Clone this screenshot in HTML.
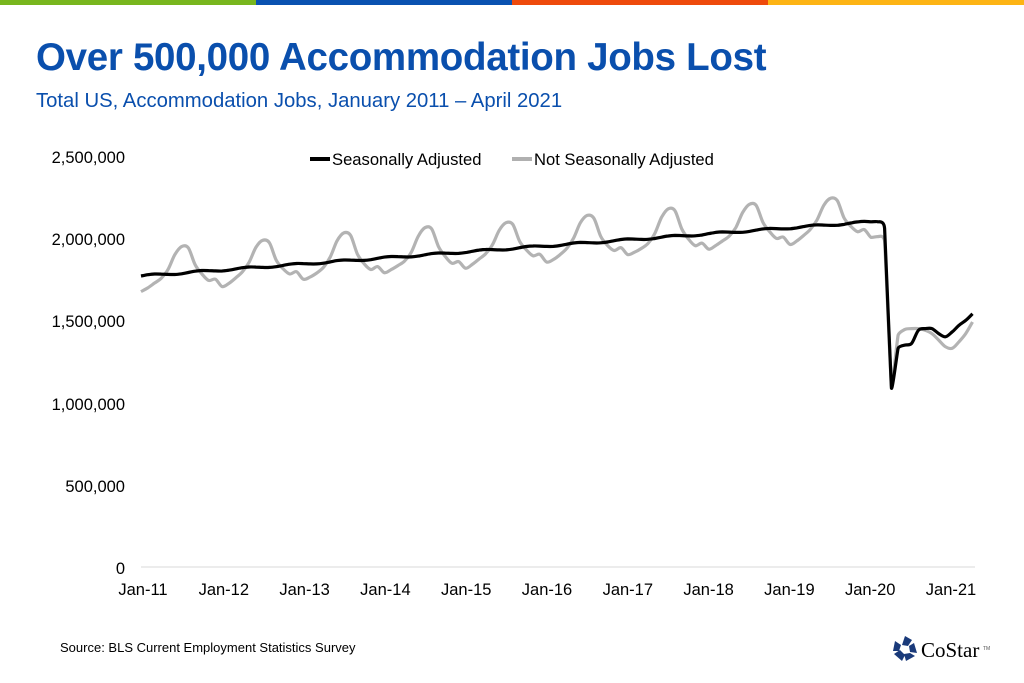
<!DOCTYPE html>
<html><head><meta charset="utf-8"><style>
body{margin:0;width:1024px;height:683px;background:#fff;overflow:hidden;font-family:"Liberation Sans",Arial,sans-serif;position:relative}
.bar{position:absolute;top:0;height:5px;width:256px}
#t{position:absolute;left:36px;top:36px;font-size:38.5px;font-weight:bold;color:#0a4fad;letter-spacing:-0.3px}
#s{position:absolute;left:36px;top:90px;font-size:20.3px;color:#0a4fad}
#src{position:absolute;left:60px;top:640px;font-size:13px;color:#000}
</style></head><body>
<div class="bar" style="left:0;background:#78b61e"></div>
<div class="bar" style="left:256px;background:#0a52b0"></div>
<div class="bar" style="left:512px;background:#ee4a0c"></div>
<div class="bar" style="left:768px;background:#fdb414"></div>
<div id="t">Over 500,000 Accommodation Jobs Lost</div>
<div id="s">Total US, Accommodation Jobs, January 2011 – April 2021</div>
<svg width="1024" height="683" style="position:absolute;left:0;top:0">
<g font-family="Liberation Sans, Arial, sans-serif" font-size="16.5" fill="#000" text-anchor="end">
<text x="125" y="163">2,500,000</text><text x="125" y="245">2,000,000</text><text x="125" y="327">1,500,000</text>
<text x="125" y="410">1,000,000</text><text x="125" y="492">500,000</text><text x="125" y="574">0</text>
</g>
<line x1="141" y1="567" x2="975" y2="567" stroke="#d9d9d9" stroke-width="1"/>
<g id="xl" font-family="Liberation Sans, Arial, sans-serif" font-size="16.5" text-anchor="middle"></g>
<line x1="310" y1="159" x2="330" y2="159" stroke="#000" stroke-width="4"/>
<text x="332" y="165" font-size="16.6" font-family="Liberation Sans, Arial, sans-serif">Seasonally Adjusted</text>
<line x1="512" y1="159" x2="532" y2="159" stroke="#b0b0b0" stroke-width="4"/>
<text x="534" y="165" font-size="16.6" font-family="Liberation Sans, Arial, sans-serif">Not Seasonally Adjusted</text>
<path id="nsa" fill="none" stroke="#b3b3b3" stroke-width="3.2" stroke-linejoin="round"/>
<path id="sa" fill="none" stroke="#000" stroke-width="3.2" stroke-linejoin="round"/>
<g transform="translate(905,649)" fill="#1a3a7a">
<polygon points="0,-13 7,-9 3,-3 -3,-4"/><polygon points="9,-6 12,4 5,3 4,-3"/><polygon points="10,7 1,12 -1,5 5,4"/><polygon points="-3,12 -11,5 -5,1 0,6"/><polygon points="-12,2 -10,-8 -4,-4 -6,2"/>
</g>
<text x="921" y="657" font-family="Liberation Serif, serif" font-size="21" fill="#000">CoStar</text>
<text x="983" y="650" font-size="5" fill="#555">TM</text>
</svg>
<div id="src">Source: BLS Current Employment Statistics Survey</div>
<script>
var X=function(m){return 141+m*6.76},Y=function(v){return 567-v/500000*82.2};
var xl=document.getElementById('xl'),s='';
for(var i=0;i<11;i++){s+='<text x="'+(141+i*80.8+2)+'" y="595">Jan-'+(11+i)+'</text>';}
xl.innerHTML=s;
var seas=[-95,-80,-55,-25,30,120,165,150,40,-20,-60,-50];
var sa=[],nsa=[];
for(var m=0;m<108;m++){var v=1770000+m*(330000/108)+6000*Math.sin(m*0.9);sa.push(v);nsa.push(v+seas[m%12]*1000);}
var saT=[2100,2100,2060,1090,1330,1350,1360,1440,1450,1450,1420,1400,1430,1470,1500,1540];
var nsT=[2005,2010,1980,1100,1410,1445,1450,1450,1440,1420,1380,1340,1330,1370,1420,1490];
for(var k=0;k<saT.length;k++){sa.push(saT[k]*1000);nsa.push(nsT[k]*1000);}
function path(a){var P=a.map(function(v,i){return [X(i),Y(v)]});var p='M'+P[0][0]+','+P[0][1];
for(var i=0;i<P.length-1;i++){var p0=P[Math.max(0,i-1)],p1=P[i],p2=P[i+1],p3=P[Math.min(P.length-1,i+2)],t=(i>=108&&i<=112)?0.05:0.16;
p+='C'+(p1[0]+(p2[0]-p0[0])*t).toFixed(1)+','+(p1[1]+(p2[1]-p0[1])*t).toFixed(1)+' '+(p2[0]-(p3[0]-p1[0])*t).toFixed(1)+','+(p2[1]-(p3[1]-p1[1])*t).toFixed(1)+' '+p2[0].toFixed(1)+','+p2[1].toFixed(1);}
return p;}
document.getElementById('sa').setAttribute('d',path(sa));
document.getElementById('nsa').setAttribute('d',path(nsa));
</script>
</body></html>
